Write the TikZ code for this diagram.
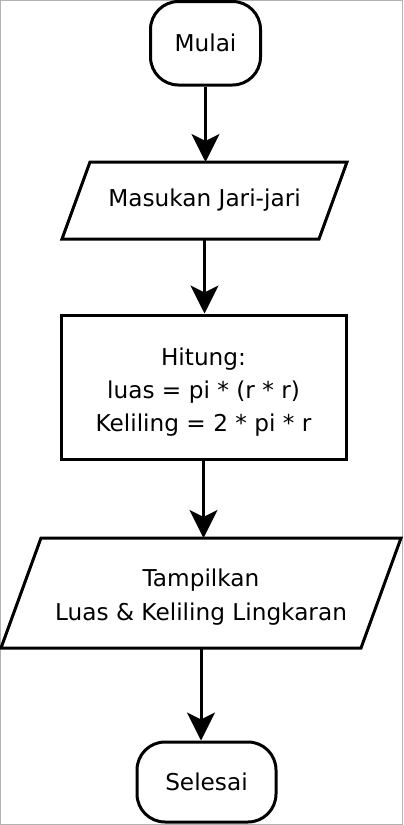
\documentclass[tikz,border=0pt]{standalone}
\usepackage{fontspec}
\setmainfont{DejaVu Sans}
\usetikzlibrary{arrows.meta}

\begin{document}
\begin{tikzpicture}[x=0.5pt,y=-0.5pt,>={Stealth[length=14pt,width=14pt,inset=3.5pt]},
    every node/.style={font=\fontsize{11.6}{16.5}\selectfont,line width=1.5pt,inner sep=0pt},
    terminal/.style={draw,rounded corners=14pt,minimum width=55pt,minimum height=41.75pt},
    io/.style={rectangle,align=center,outer sep=0pt},
    process/.style={draw,rectangle,minimum width=142.5pt,minimum height=72pt,align=center},
    outline/.style={line width=1.5pt,line join=miter},
    flow/.style={->,line width=1.5pt}]
      \useasboundingbox (0,0) rectangle (403,825);
      \draw[gray!60,line width=0.5pt] (0.5,0.5) rectangle (402.5,824.5);
      \node[terminal] (mulai) at (205.5,43.25) {Mulai};
      \node[io,minimum width=128.5pt,minimum height=38.5pt] (input) at (204.5,200.5) {Masukan Jari-jari};
      \draw[outline] ([xshift=7pt]input.north west) -- ([xshift=7pt]input.north east)
        -- ([xshift=-7pt]input.south east) -- ([xshift=-7pt]input.south west) -- cycle;
      \node[process] (hitung) at (203.5,387) {\\[-3pt]Hitung:\\luas = pi * (r * r)\\Keliling = 2 * pi * r};
      \node[io,minimum width=180pt,minimum height=55pt,font=\fontsize{11.6}{17}\selectfont] (output) at (201,593) {\\[-4.5pt]Tampilkan\\Luas \& Keliling Lingkaran};
      \draw[outline] ([xshift=10pt]output.north west) -- ([xshift=10pt]output.north east)
        -- ([xshift=-10pt]output.south east) -- ([xshift=-10pt]output.south west) -- cycle;
      \node[terminal,minimum width=69.5pt,minimum height=40pt] (selesai) at (206.5,782) {Selesai};
      \draw[flow] (mulai) -- (mulai |- input.north);
      \draw[flow] (input) -- (input |- hitung.north);
      \draw[flow] (hitung) -- (hitung |- output.north);
      \draw[flow] (output) -- (output |- selesai.north);
\end{tikzpicture}
\end{document}
